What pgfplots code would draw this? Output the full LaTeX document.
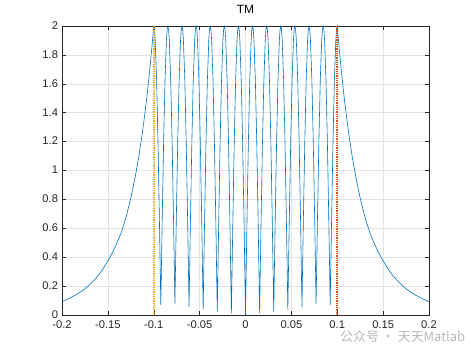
\documentclass[border=0pt]{standalone}
\usepackage{fontspec}
\setmainfont{Liberation Sans}
\newfontfamily\cjk{Noto Sans CJK SC}
\usepackage{pgfplots}
\pgfplotsset{compat=1.18}
\definecolor{mblue}{HTML}{0072BD}
\definecolor{myellow}{HTML}{EDB120}
\definecolor{mred}{HTML}{D95319}
\definecolor{axgray}{HTML}{262626}
\definecolor{gridgray}{HTML}{E3E3E3}
\begin{document}
\begin{tikzpicture}
\begin{axis}[name=a,
  scale only axis, width=367bp, height=289bp,
  xmin=-0.2, xmax=0.2, ymin=0, ymax=2,
  xtick={-0.2,-0.15,-0.1,-0.05,0,0.05,0.1,0.15,0.2},
  xticklabels={-0.2,-0.15,-0.1,-0.05,0,0.05,0.1,0.15,0.2},
  ytick={0,0.2,0.4,0.6,0.8,1,1.2,1.4,1.6,1.8,2},
  yticklabels={0,0.2,0.4,0.6,0.8,1,1.2,1.4,1.6,1.8,2},
  grid=major, grid style={color=gridgray, line width=0.5bp},
  tick align=inside, major tick length=4bp,
  axis line style={color=axgray, line width=0.5bp},
  tick style={color=axgray, line width=0.5bp},
  ticklabel style={font=\fontsize{11.2}{13}\selectfont, text=axgray},
  xticklabel style={yshift=-2.5bp},
  yticklabel style={xshift=-0.5bp, yshift=0.5bp},
  title={TM},
  title style={font=\fontsize{12}{14}\selectfont, text=black, at={(0.5,1)}, anchor=south, inner sep=0pt, yshift=6bp},
]
\addplot[color=mblue, line width=0.6bp] table {
x y
-0.200 0.092
-0.195 0.106
-0.190 0.122
-0.185 0.139
-0.180 0.159
-0.175 0.182
-0.170 0.209
-0.165 0.241
-0.160 0.278
-0.155 0.322
-0.150 0.375
-0.145 0.432
-0.140 0.500
-0.135 0.578
-0.130 0.682
-0.125 0.809
-0.120 0.963
-0.116 1.109
-0.113 1.235
-0.110 1.378
-0.108 1.482
-0.106 1.596
-0.104 1.720
-0.102 1.854
-0.100000 2.000
-0.099231 1.976
-0.098462 1.906
-0.096923 1.631
-0.095385 1.204
-0.093846 0.666
-0.092308 0.070
-0.090769 0.666
-0.089231 1.204
-0.087692 1.631
-0.086154 1.906
-0.085385 1.976
-0.084615 2.000
-0.083846 1.976
-0.083077 1.906
-0.081538 1.632
-0.080000 1.207
-0.078461 0.670
-0.076923 0.075
-0.075384 0.670
-0.073846 1.207
-0.072307 1.632
-0.070769 1.906
-0.070000 1.976
-0.069231 2.000
-0.068462 1.976
-0.067693 1.905
-0.066154 1.629
-0.064616 1.198
-0.063077 0.656
-0.061539 0.055
-0.060000 0.656
-0.058462 1.198
-0.056923 1.629
-0.055385 1.905
-0.054616 1.976
-0.053846 2.000
-0.053077 1.976
-0.052308 1.904
-0.050769 1.625
-0.049231 1.190
-0.047692 0.642
-0.046154 0.035
-0.044615 0.642
-0.043077 1.190
-0.041538 1.625
-0.040000 1.904
-0.039231 1.976
-0.038462 2.000
-0.037693 1.976
-0.036924 1.903
-0.035385 1.622
-0.033847 1.185
-0.032308 0.634
-0.030770 0.023
-0.029231 0.634
-0.027693 1.185
-0.026154 1.622
-0.024616 1.903
-0.023847 1.976
-0.023077 2.000
-0.022308 1.976
-0.021539 1.903
-0.020000 1.620
-0.018462 1.181
-0.016923 0.626
-0.015385 0.012
-0.013846 0.626
-0.012308 1.181
-0.010769 1.620
-0.009231 1.903
-0.008462 1.976
-0.007692 2.000
-0.006923 1.976
-0.006154 1.902
-0.004615 1.619
-0.003077 1.178
-0.001538 0.623
0.000000 0.007
0.001539 0.623
0.003077 1.178
0.004616 1.619
0.006154 1.902
0.006923 1.976
0.007692 2.000
0.008461 1.976
0.009230 1.903
0.010769 1.620
0.012307 1.181
0.013846 0.626
0.015384 0.012
0.016923 0.626
0.018461 1.181
0.020000 1.620
0.021538 1.903
0.022307 1.976
0.023077 2.000
0.023846 1.976
0.024615 1.903
0.026154 1.622
0.027692 1.185
0.029231 0.634
0.030769 0.023
0.032308 0.634
0.033846 1.185
0.035385 1.622
0.036923 1.903
0.037692 1.976
0.038462 2.000
0.039231 1.976
0.040000 1.904
0.041539 1.625
0.043077 1.190
0.044616 0.642
0.046154 0.035
0.047693 0.642
0.049231 1.190
0.050770 1.625
0.052308 1.904
0.053077 1.976
0.053846 2.000
0.054615 1.976
0.055384 1.905
0.056923 1.629
0.058461 1.198
0.060000 0.656
0.061538 0.055
0.063077 0.656
0.064615 1.198
0.066154 1.629
0.067692 1.905
0.068461 1.976
0.069231 2.000
0.070000 1.976
0.070769 1.906
0.072308 1.632
0.073846 1.207
0.075385 0.670
0.076923 0.075
0.078462 0.670
0.080000 1.207
0.081539 1.632
0.083077 1.906
0.083846 1.976
0.084615 2.000
0.085384 1.976
0.086153 1.906
0.087692 1.631
0.089230 1.204
0.090769 0.666
0.092307 0.070
0.093846 0.666
0.095384 1.204
0.096923 1.631
0.098461 1.906
0.099230 1.976
0.100000 2.000
0.102 1.854
0.104 1.720
0.106 1.596
0.108 1.482
0.110 1.378
0.113 1.235
0.116 1.109
0.120 0.963
0.125 0.809
0.130 0.682
0.135 0.578
0.140 0.500
0.145 0.432
0.150 0.375
0.155 0.322
0.160 0.278
0.165 0.241
0.170 0.209
0.175 0.182
0.180 0.159
0.185 0.139
0.190 0.122
0.195 0.106
0.200 0.092
};
\addplot[color=myellow, line width=1.6bp, dash pattern=on 1bp off 0.8bp] coordinates {(-0.1,0) (-0.1,2)};
\addplot[color=mred, line width=1.6bp, dash pattern=on 1bp off 0.8bp] coordinates {(0.1,0) (0.1,2)};
\end{axis}
\node[anchor=west, text=black!28, font=\cjk\fontsize{13}{15}\selectfont, inner sep=0pt] at ([xshift=278bp,yshift=-22bp]a.south west) {公众号 · 天天Matlab};
\path[use as bounding box] ([xshift=-62bp,yshift=-40bp]a.south west) rectangle ([xshift=45bp,yshift=26bp]a.north east);
\end{tikzpicture}
\end{document}
